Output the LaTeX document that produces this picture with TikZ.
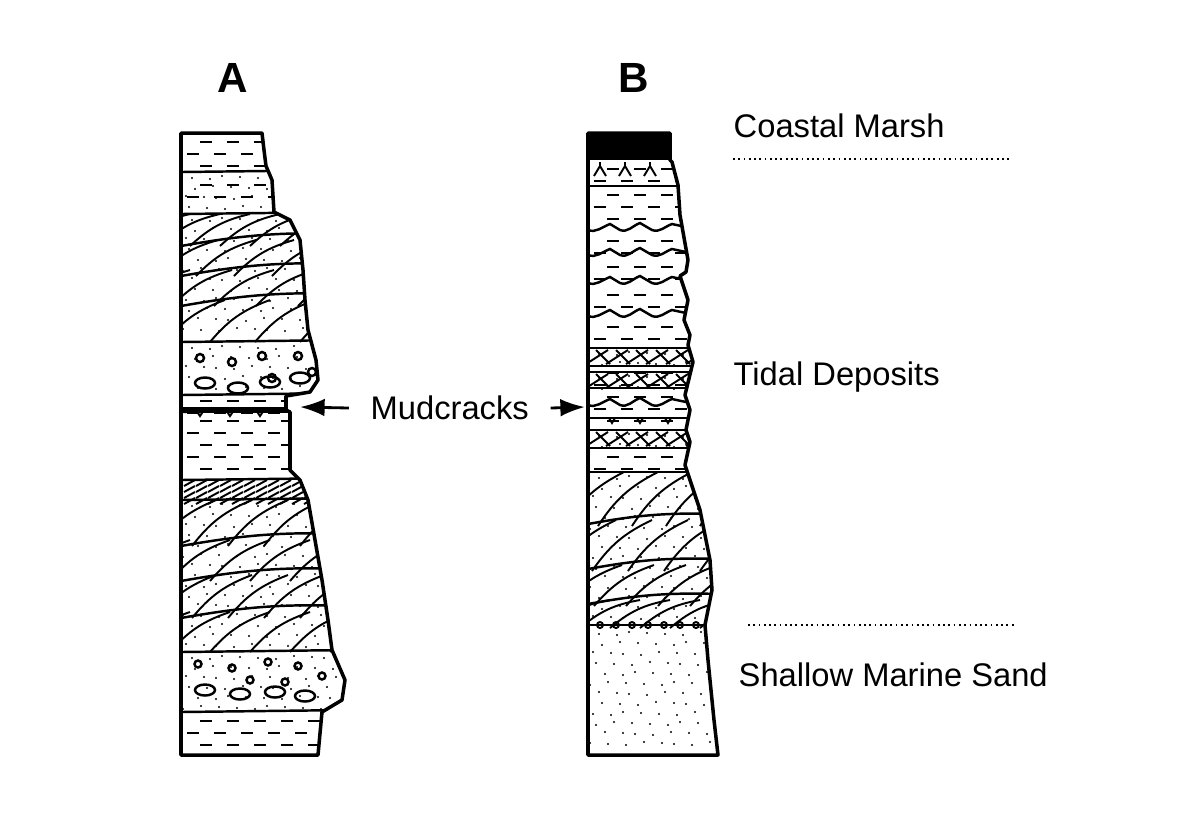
\documentclass[tikz,border=0pt]{standalone}
\usepackage{fontspec}
\setmainfont{Liberation Sans}
\usetikzlibrary{arrows.meta}
\tikzset{>=latex}
\tikzset{
  column/.style = {line width=1pt, line join=round},
  bed/.style = {line width=0.7pt},
  lam/.style = {line width=0.55pt},
  label/.style = {font=\fontsize{9.3}{11}\selectfont, anchor=west, inner sep=0pt},
  colname/.style = {font=\fontsize{12}{14}\selectfont\bfseries, inner sep=0pt},
  divider/.style = {densely dotted, line width=0.5pt},
  pointer/.style = {-{Latex[length=7pt,width=5pt]}, line width=0.8pt}
}
% horizontal dashes (shale)
\newcommand{\dashband}[4]{%
  \pgfmathsetmacro\ya{#3+9}\pgfmathsetmacro\yb{#3+21}\pgfmathsetmacro\yc{#4-4}%
  \foreach \yy [count=\rr] in {\ya,\yb,...,\yc}{%
    \pgfmathsetmacro\xo{#1+6+mod(\rr,2)*13}\pgfmathsetmacro\xb{\xo+27}%
    \foreach \xx in {\xo,\xb,...,#2} \draw[lam] (\xx,\yy) -- ++(12,0);}}
% scattered dots (sand)
\newcommand{\dotband}[4]{%
  \pgfmathsetmacro\ya{#3+6}\pgfmathsetmacro\yb{#3+16}\pgfmathsetmacro\yc{#4-3}%
  \foreach \yy [count=\rr] in {\ya,\yb,...,\yc}{%
    \pgfmathsetmacro\xo{#1+4+mod(\rr,3)*6}\pgfmathsetmacro\xb{\xo+17}%
    \foreach \xx [count=\cc] in {\xo,\xb,...,#2}{%
      \pgfmathsetmacro\px{\xx+mod(\cc*7+\rr*3,6)-3}%
      \pgfmathsetmacro\py{\yy+mod(\cc*5+\rr,4)-2}%
      \fill (\px,\py) circle (1.1);}}}
% inclined laminae between two bed boundaries
\newcommand{\crossset}[5]{%
  \pgfmathsetmacro\xs{#1+#5}%
  \foreach \xx in {#1,\xs,...,#2}
    \draw[lam] (\xx,#4) to[bend left=15] (\xx+60,#3);}
\begin{document}
\begin{tikzpicture}[x=0.01cm,y=-0.01cm]
\useasboundingbox (0,0) rectangle (1202,838);

% ---------- column A ----------
\node[colname] (colA) at (233,78) {A};
\begin{scope}
  \clip (181,133) -- (262,133) -- (264,150) -- (266,166) -- (272,180) -- (274,212)
    -- (290,220) -- (300,240) -- (303,270) -- (305,300) -- (308,330) -- (316,360)
    -- (318,380) -- (310,392) -- (286,396) -- (286,410) -- (290,412) -- (290,470)
    -- (300,480) -- (308,500) -- (315,540) -- (322,580) -- (328,620) -- (332,650)
    -- (345,680) -- (342,700) -- (322,712) -- (318,755) -- (181,755) -- cycle;
  \dashband{181}{340}{133}{172}
  \dotband{181}{340}{172}{212}
  \dashband{181}{340}{176}{212}
  \dotband{181}{340}{214}{340}
  \crossset{130}{340}{214}{246}{30}
  \crossset{120}{340}{240}{276}{38}
  \crossset{130}{340}{270}{306}{42}
  \crossset{120}{340}{300}{342}{45}
  \dotband{181}{340}{342}{395}
  \foreach \xx/\yy in {200/358,232/362,262/356,298/356,312/372,272/378}
    \draw[bed] (\xx,\yy) circle (4);
  \foreach \xx/\yy in {205/383,238/388,270/382,300/378}
    \draw[bed] (\xx,\yy) ellipse (10 and 5.5);
  \dashband{181}{340}{392}{416}
  \dashband{181}{340}{412}{480}
  \foreach \yy in {480,486,...,500}
    \foreach \xx in {184,196,...,310} \draw[lam] (\xx,\yy+6) -- (\xx+11,\yy);
  \dotband{181}{350}{500}{650}
  \crossset{120}{350}{500}{546}{36}
  \crossset{130}{350}{540}{581}{40}
  \crossset{120}{350}{575}{618}{36}
  \crossset{130}{350}{612}{652}{40}
  \dotband{181}{350}{652}{712}
  \foreach \xx/\yy in {198/664,232/668,268/662,298/666,322/676,250/680,285/682}
    \draw[bed] (\xx,\yy) circle (3.5);
  \foreach \xx/\yy in {205/690,240/694,275/692,305/696}
    \draw[bed] (\xx,\yy) ellipse (10 and 5.5);
  \dashband{181}{340}{712}{755}
  % bed boundaries
  \foreach \yy in {172,214,342,395,412,480,500,652,712}
    \draw[bed] (181,\yy) -- (350,\yy-2);
  \foreach \yy in {240,270,300,540,575,612}
    \draw[bed] (181,\yy+6) to[bend left=6] (350,\yy-6);
  \draw[line width=1.5pt] (181,410) -- (290,410);
  \foreach \xx in {200,230,260} \draw[lam] (\xx-4,410) -- (\xx,416) -- (\xx+4,410);
\end{scope}
\draw[column] (181,133) -- (262,133) -- (264,150) -- (266,166) -- (272,180) -- (274,212)
  -- (290,220) -- (300,240) -- (303,270) -- (305,300) -- (308,330) -- (316,360)
  -- (318,380) -- (310,392) -- (286,396) -- (286,410) -- (290,412) -- (290,470)
  -- (300,480) -- (308,500) -- (315,540) -- (322,580) -- (328,620) -- (332,650)
  -- (345,680) -- (342,700) -- (322,712) -- (318,755) -- (181,755) -- cycle;

% ---------- column B ----------
\node[colname] (colB) at (634,78) {B};
\begin{scope}
  \clip (588,133) -- (670,133) -- (670,160) -- (672,162) -- (678,185) -- (680,215)
    -- (688,260) -- (686,272) -- (680,276) -- (688,300) -- (684,320) -- (690,335)
    -- (688,345) -- (693,362) -- (685,395) -- (690,410) -- (686,430) -- (690,442)
    -- (685,465) -- (690,480) -- (700,510) -- (710,560) -- (712,590) -- (708,610)
    -- (705,625) -- (708,660) -- (714,720) -- (718,755) -- (588,755) -- cycle;
  \fill (588,133) rectangle (700,160);
  \dashband{588}{700}{160}{186}
  \foreach \xx in {600,625,650} \draw[lam] (\xx-6,176) -- (\xx,166) -- (\xx+6,176) (\xx,166) -- (\xx,162);
  \dashband{588}{700}{186}{230}
  \dashband{588}{700}{232}{255}
  \dashband{588}{700}{258}{282}
  \dashband{588}{700}{286}{315}
  \dashband{588}{700}{318}{347}
  \foreach \yy in {348,372,430}{
    \dotband{588}{700}{\yy}{\yy+18}
    \foreach \xx in {586,606,...,690} \draw[lam] (\xx,\yy+16) -- (\xx+22,\yy+2);
    \foreach \xx in {596,616,...,690} \draw[lam] (\xx,\yy+2) -- (\xx+14,\yy+16);}
  \dashband{588}{700}{364}{376}
  \dashband{588}{700}{388}{430}
  \dashband{588}{700}{448}{472}
  % ripple lines of the flaser beds
  \foreach \yy in {230,255,283,316,405}
    \draw[bed] (588,\yy) to[out=-20,in=200] (610,\yy-6) -- (620,\yy)
      to[out=-20,in=200] (640,\yy-7) -- (652,\yy) to[out=-20,in=200] (672,\yy-6) -- (700,\yy);
  \foreach \yy in {186,348,366,372,388,418,430,448,472}
    \draw[bed] (588,\yy) -- (720,\yy);
  \foreach \xx in {612,640,668} \draw[lam] (\xx-3,418) -- (\xx,423) -- (\xx+3,418);
  \dotband{588}{720}{472}{625}
  \crossset{530}{720}{472}{526}{34}
  \crossset{520}{720}{520}{571}{36}
  \crossset{530}{720}{565}{606}{32}
  \crossset{520}{720}{600}{628}{30}
  \foreach \yy in {520,565,600}
    \draw[bed] (588,\yy+4) to[bend left=6] (720,\yy-6);
  \draw[bed] (588,625) -- (720,625);
  \foreach \xx in {600,616,...,700} \draw[lam] (\xx,625) circle (3);
  \dotband{588}{720}{628}{755}
\end{scope}
\draw[column] (588,133) -- (670,133) -- (670,160) -- (672,162) -- (678,185) -- (680,215)
  -- (688,260) -- (686,272) -- (680,276) -- (688,300) -- (684,320) -- (690,335)
  -- (688,345) -- (693,362) -- (685,395) -- (690,410) -- (686,430) -- (690,442)
  -- (685,465) -- (690,480) -- (700,510) -- (710,560) -- (712,590) -- (708,610)
  -- (705,625) -- (708,660) -- (714,720) -- (718,755) -- (588,755) -- cycle;

% ---------- labels ----------
\node[label] (mud) at (370,408) {Mudcracks};
\coordinate (mudA) at (300,407);
\coordinate (mudB) at (585,407);
\draw[pointer] ([xshift=-6pt]mud.west) -- (mudA);
\draw[pointer] ([xshift=6pt]mud.east) -- (mudB);
\node[label] (marsh) at (733,126) {Coastal Marsh};
\node[label] (tidal) at (733,377) {Tidal Deposits};
\node[label] (sand) at (738,675) {Shallow Marine Sand};
\coordinate (d1a) at (733,159); \coordinate (d1b) at (1010,159);
\coordinate (d2a) at (748,625); \coordinate (d2b) at (1015,625);
\draw[divider] (d1a) -- (d1b);
\draw[divider] (d2a) -- (d2b);
\end{tikzpicture}
\end{document}
